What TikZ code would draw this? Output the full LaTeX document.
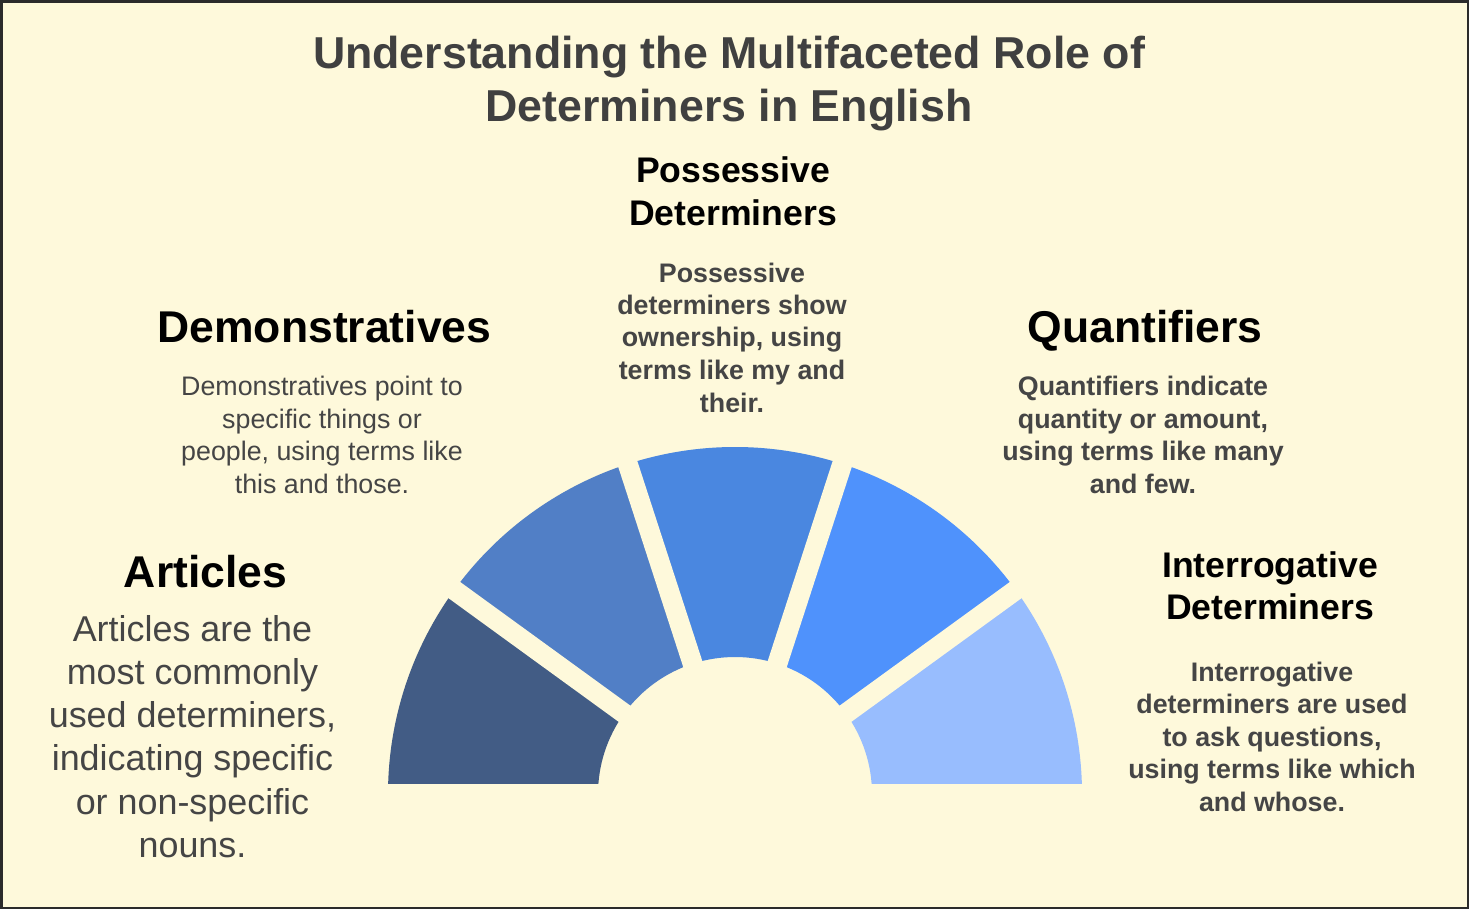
\documentclass[tikz,border=0pt]{standalone}
\usepackage{fontspec}
\setmainfont{Liberation Sans}
\definecolor{cream}{HTML}{FEF9DB}
\definecolor{framecol}{HTML}{2B2B2B}
\definecolor{titlegray}{HTML}{404040}
\definecolor{descgray}{HTML}{454545}
\definecolor{segA}{HTML}{425C85}
\definecolor{segB}{HTML}{517FC6}
\definecolor{segC}{HTML}{4A87E0}
\definecolor{segD}{HTML}{4F92FC}
\definecolor{segE}{HTML}{98BDFE}
\tikzset{
  titletext/.style={font=\fontsize{22.35}{26.5}\selectfont\bfseries, text=titlegray, align=center, anchor=base, inner sep=0pt},
  headtext/.style={font=\fontsize{22.25}{26}\selectfont\bfseries, text=black, align=center, anchor=base, inner sep=0pt},
  subheadtext/.style={font=\fontsize{17.8}{21.25}\selectfont\bfseries, text=black, align=center, anchor=base, inner sep=0pt},
  desctext/.style={font=\fontsize{13.4}{16.25}\selectfont, text=descgray, align=center, anchor=base, inner sep=0pt},
  descbold/.style={font=\fontsize{13.4}{16.25}\selectfont\bfseries, text=descgray, align=center, anchor=base, inner sep=0pt},
  bigdesc/.style={font=\fontsize{17.95}{21.65}\selectfont, text=descgray, align=center, anchor=base, inner sep=0pt},
  gapline/.style={draw=cream, line width=10pt, line cap=butt},
}
\newcommand{\fanseg}[3]{%
  \fill[#3] (#1:137) -- (#1:347) arc[start angle=#1, end angle=#2, radius=347]
    -- (#2:137) arc[start angle=#2, end angle=#1, radius=137] -- cycle;}
\begin{document}
\begin{tikzpicture}[x=0.5pt,y=-0.5pt]
\useasboundingbox (0,0) rectangle (1471,914);
\fill[white] (0,0) rectangle (1471,914);
\draw[fill=cream, draw=framecol, line width=1.2pt] (1.5,1.5) rectangle (1468,908);

% title (anchor = baseline of last line)
\node[titletext] (title) at (729,122) {Understanding the Multifaceted Role of\\Determiners in English};

% fan
\begin{scope}[shift={(735,794)}]
  \fanseg{-180}{-144}{segA}
  \fanseg{-144}{-108}{segB}
  \fanseg{-108}{-72}{segC}
  \fanseg{-72}{-36}{segD}
  \fanseg{-36}{0}{segE}
  \foreach \a in {-180,-144,-108,-72,-36,0}{
    \draw[gapline] (0,0) -- (\a:362);
  }
\end{scope}

% headings
\node[headtext] (demoH) at (324.5,343) {Demonstratives};
\node[headtext] (quantH) at (1145,343) {Quantifiers};
\node[headtext] (artH) at (205.5,587) {Articles};
\node[subheadtext] (possH) at (733,225.5) {Possessive\\Determiners};
\node[subheadtext] (interH) at (1270,619.5) {Interrogative\\Determiners};

% descriptions
\node[desctext] (demoD) at (322,493) {Demonstratives point to\\specific things or\\people, using terms like\\this and those.};
\node[descbold] (possD) at (732,412) {Possessive\\determiners show\\ownership, using\\terms like my and\\their.};
\node[descbold] (quantD) at (1143,493) {Quantifiers indicate\\quantity or amount,\\using terms like many\\and few.};
\node[descbold] (interD) at (1272,811) {Interrogative\\determiners are used\\to ask questions,\\using terms like which\\and whose.};
\node[bigdesc] (artD) at (192.5,857.5) {Articles are the\\most commonly\\used determiners,\\indicating specific\\or non-specific\\nouns.};
\end{tikzpicture}
\end{document}
